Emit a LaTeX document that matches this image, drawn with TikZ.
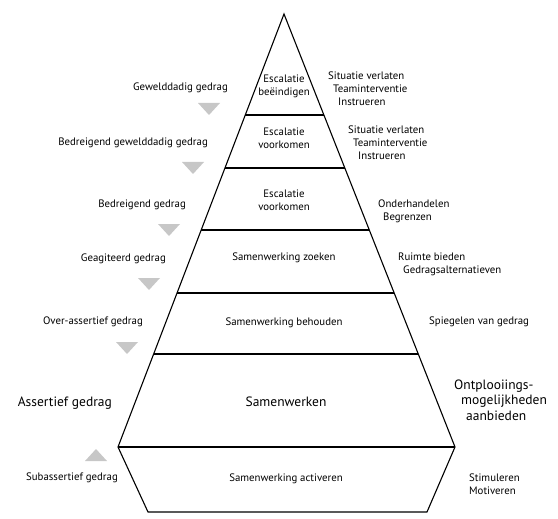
\documentclass[tikz,border=0pt]{standalone}
\usepackage{fontspec}
\setmainfont{PT Sans}
\usetikzlibrary{calc}

\begin{document}
\begin{tikzpicture}[x=1pt, y=-1pt,
    edge/.style={line width=1.1pt, line join=miter},
    lbl/.style={font=\fontsize{10.8}{12.8}\selectfont, inner sep=0pt},
    biglbl/.style={font=\fontsize{13.5}{15.5}\selectfont, inner sep=0pt},
    wedge/.style={fill=black!22, draw=none}]
    \useasboundingbox (0,0) rectangle (558,519);

    % Pyramid
    \coordinate (top) at (284,14);
    \coordinate (lc) at (118,447);
    \coordinate (rc) at (455,447);
    \coordinate (lb) at (148,512);
    \coordinate (rb) at (427,512);
    \draw[edge] (top) -- (lc) -- (lb) -- (rb) -- (rc) -- cycle;
    \foreach \t in {0.2333,0.3557,0.4988,0.6443,0.7852,1}
        \draw[edge] ($(top)!\t!(lc)$) -- ($(top)!\t!(rc)$);

    % Levels
    \node[lbl, align=center] (esc1) at (284,86) {Escalatie\\beëindigen};
    \node[lbl, align=center] (esc2) at (284,138) {Escalatie\\voorkomen};
    \node[lbl, align=center] (esc3) at (284,200) {Escalatie\\voorkomen};
    \node[lbl] (zoeken) at (284,258) {Samenwerking zoeken};
    \node[lbl] (behouden) at (284,323) {Samenwerking behouden};
    \node[biglbl] (samen) at (286,402) {Samenwerken};
    \node[lbl] (activeren) at (286,479) {Samenwerking activeren};

    % Interventions
    \node[lbl, align=left, anchor=west] (int1) at (328,89) {Situatie verlaten\\\hspace*{5pt}Teaminterventie\\\hspace*{10pt}Instrueren};
    \node[lbl, align=left, anchor=west] (int2) at (348,143) {Situatie verlaten\\\hspace*{5pt}Teaminterventie\\\hspace*{10pt}Instrueren};
    \node[lbl, align=left, anchor=west] (int3) at (378,211) {Onderhandelen\\\hspace*{5pt}Begrenzen};
    \node[lbl, align=left, anchor=west] (int4) at (398,264) {Ruimte bieden\\\hspace*{5pt}Gedragsalternatieven};
    \node[lbl, anchor=west] (int5) at (429,322) {Spiegelen van gedrag};
    \node[biglbl, align=left, anchor=west] (int6) at (454,400) {Ontplooiings-\\\hspace*{7pt}mogelijkheden\\\hspace*{12pt}aanbieden};
    \node[lbl, align=left, anchor=west] (int7) at (469,484) {Stimuleren\\Motiveren};

    % Behaviour
    \node[lbl, anchor=east] (gedr1) at (228,88) {Gewelddadig gedrag};
    \node[lbl, anchor=east] (gedr2) at (208,143) {Bedreigend gewelddadig gedrag};
    \node[lbl, anchor=east] (gedr3) at (186,205) {Bedreigend gedrag};
    \node[lbl, anchor=east] (gedr4) at (166,259) {Geagiteerd gedrag};
    \node[lbl, anchor=east] (gedr5) at (143,322) {Over-assertief gedrag};
    \node[biglbl, anchor=east] (gedr6) at (112,403) {Assertief gedrag};
    \node[lbl, anchor=east] (gedr7) at (118,478) {Subassertief gedrag};

    % Wedges
    \foreach \x/\y in {209/109, 193/168, 169/230, 149/284, 127/348}
        \fill[wedge] ({\x-11},{\y-6}) -- ({\x+11},{\y-6}) -- (\x,{\y+6}) -- cycle;
    \fill[wedge] (85,461) -- (107,461) -- (96,449) -- cycle;

\end{tikzpicture}
\end{document}
